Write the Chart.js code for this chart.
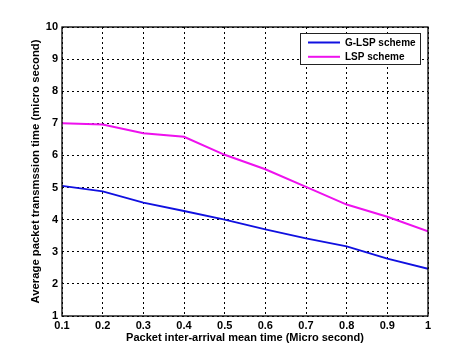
<!DOCTYPE html>
<html><head><meta charset="utf-8">
<script src="https://cdn.jsdelivr.net/npm/chart.js@4/dist/chart.umd.min.js"></script>
<style>html,body{margin:0;padding:0;background:#fff}#wrap{width:474px;height:355px}</style>
</head><body><div id="wrap"><canvas id="c" width="474" height="355"></canvas></div>
<script>
const xValues = [0.1,0.2,0.3,0.4,0.5,0.6,0.7,0.8,0.9,1.0];
const glspValues = [5.05,4.88,4.53,4.27,4.00,3.70,3.42,3.17,2.79,2.47];
const lspValues = [7.00,6.96,6.69,6.58,6.02,5.57,5.02,4.47,4.09,3.64];
const seriesNames = ["G-LSP scheme","LSP scheme"];
const xTitle = "Packet inter-arrival mean time (Micro second)";
const yTitle = "Average packet transmssion time (micro second)";
const FONT = "'Liberation Sans', Arial, sans-serif";

const framePlugin = {
  id:'frame',
  afterDatasetsDraw(chart){
    const {ctx, chartArea:a} = chart;
    ctx.save();
    ctx.strokeStyle='#000'; ctx.lineWidth=1.3; ctx.setLineDash([]);
    ctx.strokeRect(a.left, a.top, a.right-a.left, a.bottom-a.top);
    // legend
    const lx=300.5, ly=33.5, lw=120, lh=31;
    ctx.fillStyle='#fff'; ctx.fillRect(lx,ly,lw,lh);
    ctx.lineWidth=1; ctx.strokeStyle='#222'; ctx.strokeRect(lx,ly,lw,lh);
    ctx.font="bold 10px "+FONT; ctx.textBaseline='middle'; ctx.textAlign='left';
    chart.data.datasets.forEach((ds,i)=>{
      const y = ly + 9 + i*14.3;
      ctx.strokeStyle=ds.borderColor; ctx.lineWidth=2;
      ctx.beginPath(); ctx.moveTo(308,y); ctx.lineTo(340,y); ctx.stroke();
      ctx.fillStyle='#000'; ctx.fillText(ds.label,345,y+0.5);
    });
    ctx.restore();
  }
};

new Chart(document.getElementById('c'),{
  type:'line',
  data:{
    datasets:[
      {label:seriesNames[0], data:xValues.map((x,i)=>({x,y:glspValues[i]})), borderColor:'#1010e0', borderWidth:1.8, pointRadius:0, tension:0, fill:false},
      {label:seriesNames[1], data:xValues.map((x,i)=>({x,y:lspValues[i]})), borderColor:'#ee11ee', borderWidth:2, pointRadius:0, tension:0, fill:false}
    ]
  },
  options:{
    responsive:false, animation:false, devicePixelRatio:1,
    layout:{padding:{left:0,top:27,right:46,bottom:0}},
    plugins:{legend:{display:false}, tooltip:{enabled:false}},
    scales:{
      x:{type:'linear', min:0.1, max:1.0,
        afterBuildTicks(s){ s.ticks = xValues.map(v=>({value:v})); },
        afterFit(s){ s.height = 39; },
        ticks:{color:'#000', font:{family:FONT, size:11, weight:'bold'}, padding:3, maxRotation:0,
          callback:v=> (Math.abs(v-1)<1e-9 ? '1' : v.toFixed(1))},
        grid:{color:'#000', lineWidth:1, drawTicks:false},
        border:{display:false, dash:[2,3]},
        title:{display:true, text:xTitle, color:'#000', font:{family:FONT, size:11, weight:'bold'}, padding:{top:2,bottom:10}}
      },
      y:{min:1, max:10,
        afterFit(s){ s.width = 62; },
        ticks:{stepSize:1, color:'#000', font:{family:FONT, size:11, weight:'bold'}, padding:4},
        grid:{color:'#000', lineWidth:1, drawTicks:false},
        border:{display:false, dash:[2,3]},
        title:{display:true, text:yTitle, color:'#000', font:{family:FONT, size:11.3, weight:'bold'}, padding:{top:29,bottom:0}}
      }
    }
  },
  plugins:[framePlugin]
});
</script></body></html>
